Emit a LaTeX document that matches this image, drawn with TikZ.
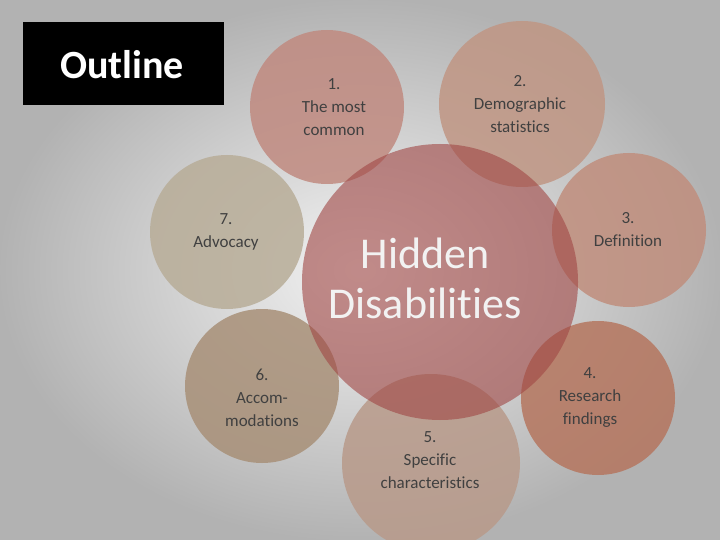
\documentclass[tikz,border=0pt]{standalone}
\usepackage{fontspec}
\setmainfont[RawFeature=-liga]{Carlito}
\begin{document}
\begin{tikzpicture}[x=1pt,y=-1pt,
  sat/.style={fill opacity=0.85,draw=none},
  lab/.style={text=black!75,align=center,font=\fontsize{17}{23}\selectfont}]
\useasboundingbox (0,0) rectangle (720,540);
\shade[inner color=white!95!black, outer color=black!30] (0,0) rectangle (720,540);
\node[fill=black,minimum width=201pt,minimum height=83pt,anchor=north west,inner sep=0pt] (out) at (23,22) {};
\node[text=white,font=\bfseries\fontsize{40}{44}\selectfont] (outt) at (122,65) {Outline};
\fill[sat,fill={rgb,255:red,192;green,138;blue,128}] (327,107) circle (77);
\fill[sat,fill={rgb,255:red,192;green,150;blue,132}] (522,104) circle (83);
\fill[sat,fill={rgb,255:red,192;green,142;blue,125}] (629,230) circle (77);
\fill[sat,fill={rgb,255:red,181;green,118;blue,95}] (598,398) circle (77);
\fill[sat,fill={rgb,255:red,184;green,154;blue,138}] (431,463) circle (89);
\fill[sat,fill={rgb,255:red,168;green,144;blue,120}] (262,386) circle (77);
\fill[sat,fill={rgb,255:red,184;green,173;blue,152}] (227,232) circle (77);
\fill[fill={rgb,255:red,160;green,70;blue,68},fill opacity=0.6] (440,282) circle (138);
\node[lab] (t1) at (334,107) {1.\\The most\\common};
\node[lab] (t2) at (520,104) {2.\\Demographic\\statistics};
\node[lab] (t3) at (628,230) {3.\\Definition};
\node[lab] (t4) at (590,398) {4.\\Research\\findings};
\node[lab] (t5) at (430,460) {5.\\Specific\\characteristics};
\node[lab] (t6) at (262,398) {6.\\Accom-\\modations};
\node[lab] (t7) at (226,232) {7.\\Advocacy};
\node[text=white!95!black,align=center,font=\fontsize{44}{50}\selectfont] (tc) at (425,278) {Hidden\\Disabilities};
\end{tikzpicture}
\end{document}
